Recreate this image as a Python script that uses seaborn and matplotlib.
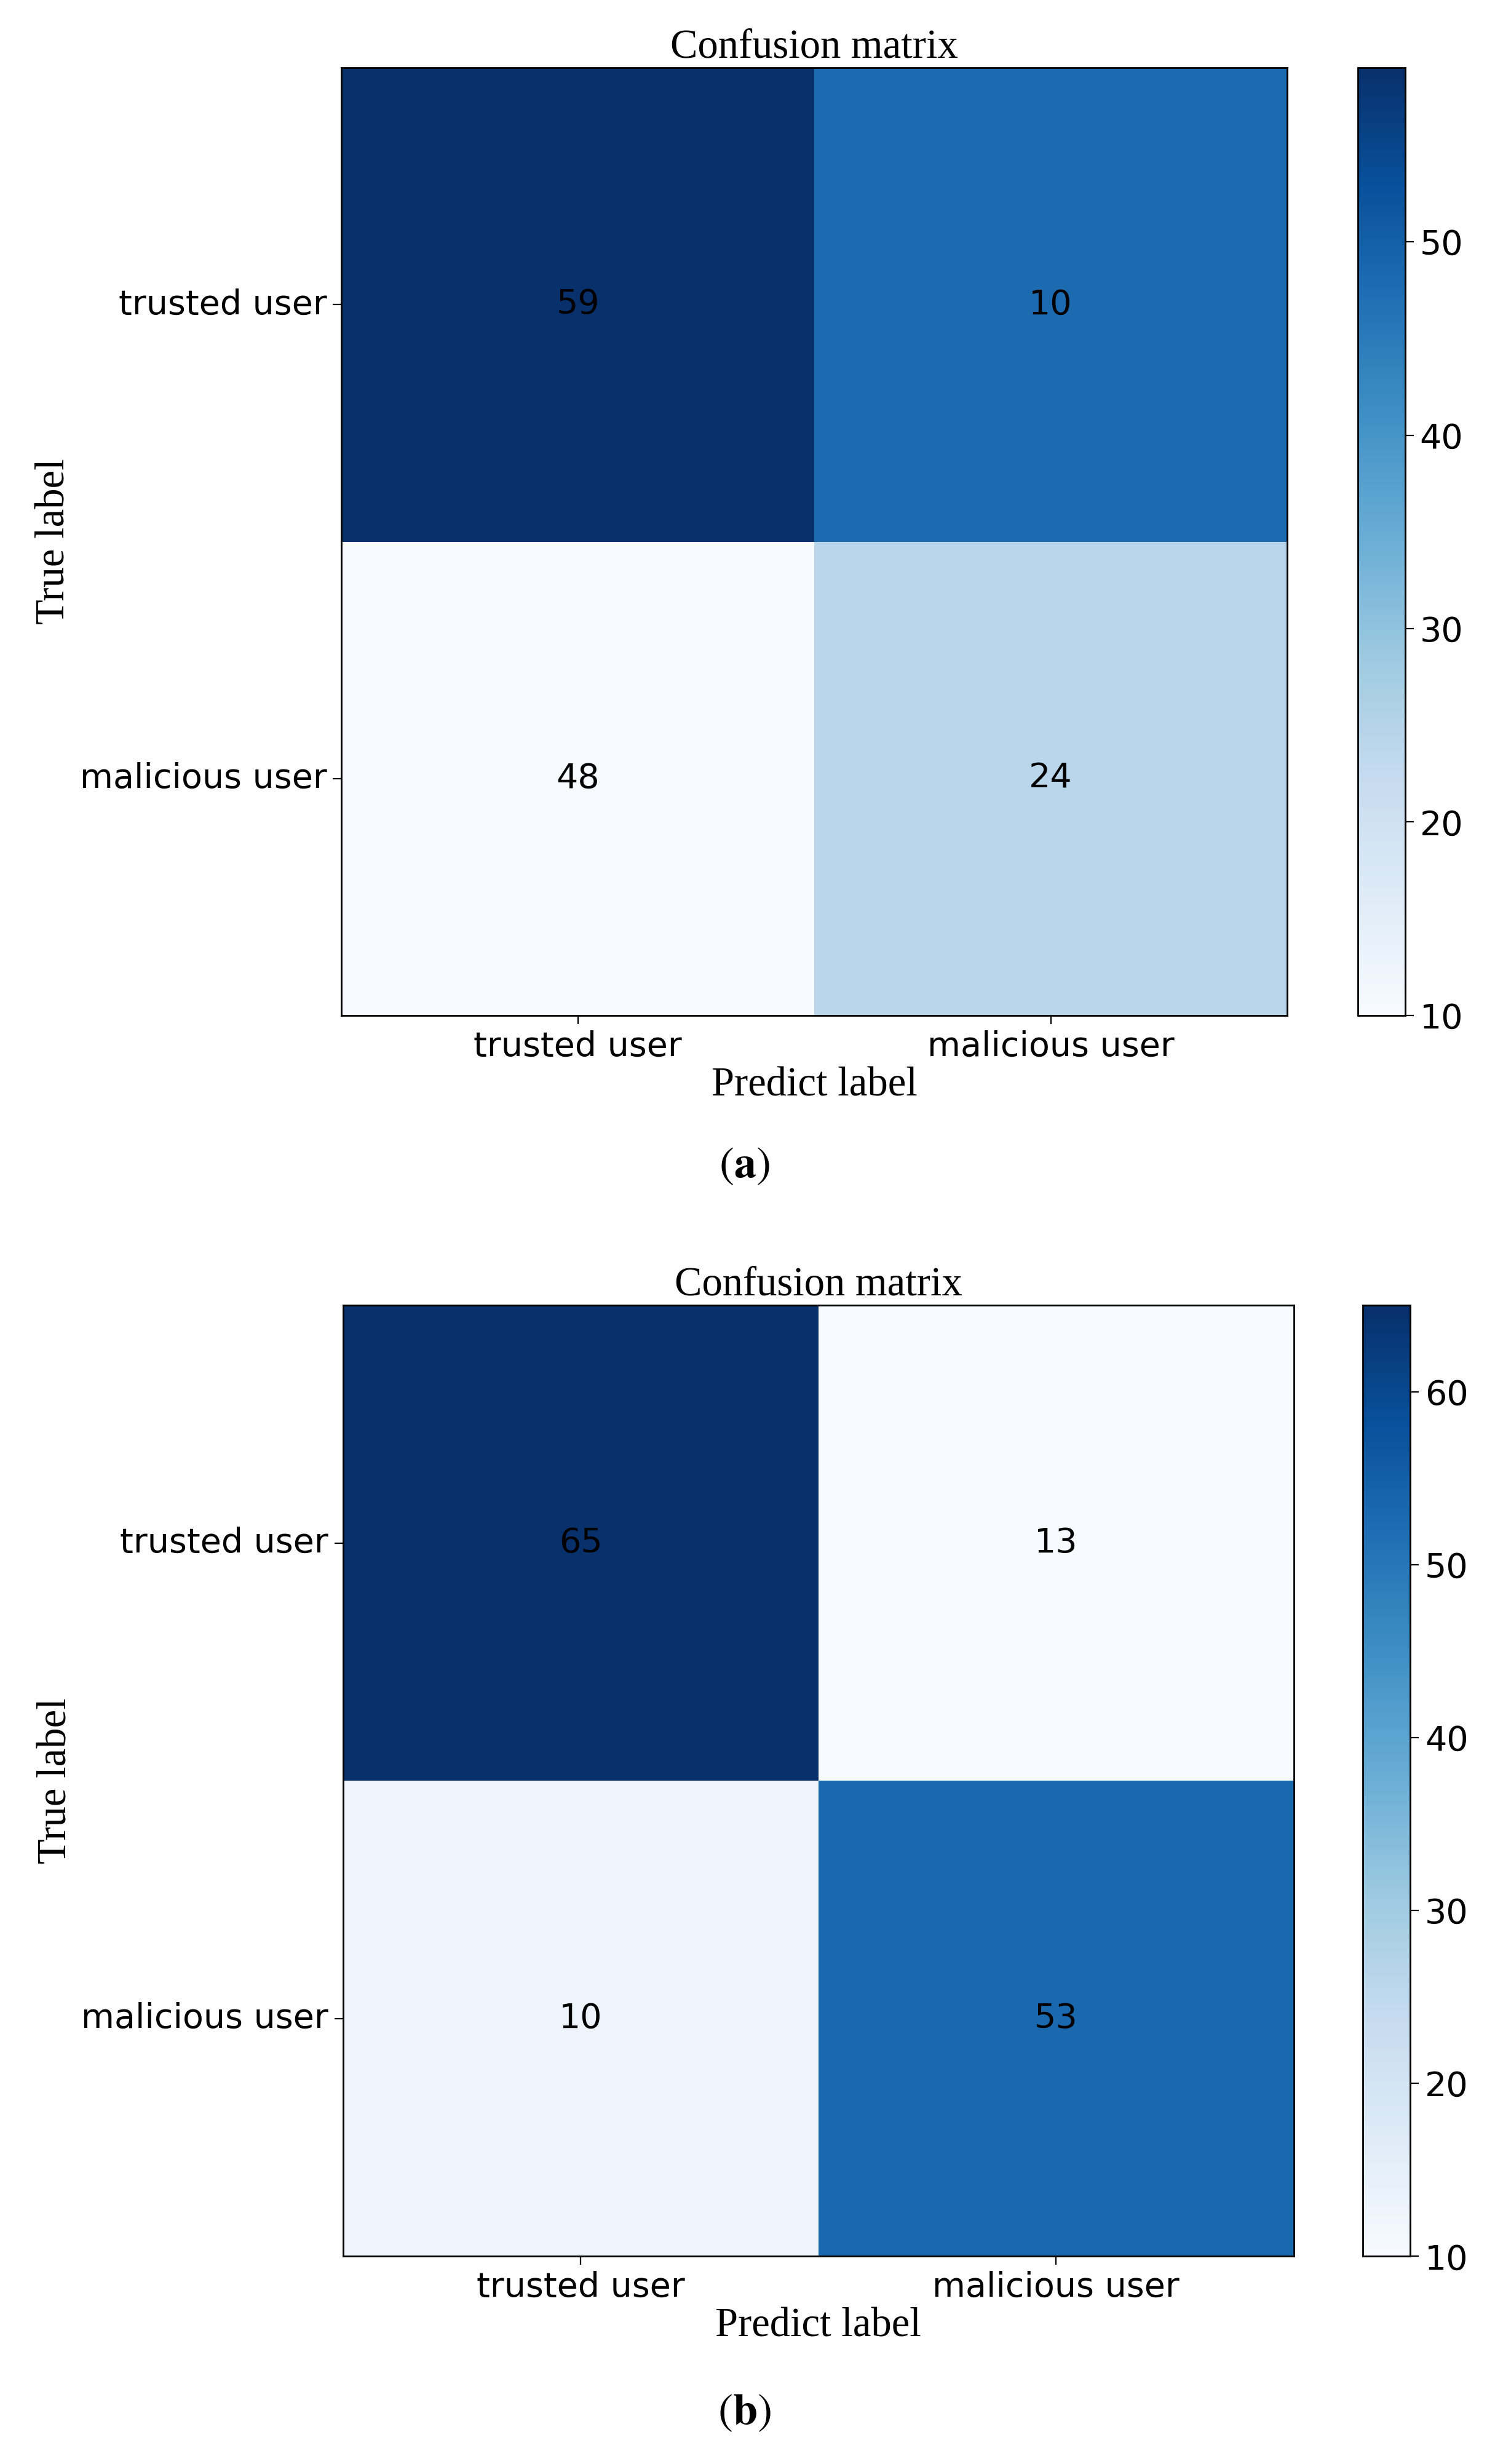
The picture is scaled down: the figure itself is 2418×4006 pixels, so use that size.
import numpy as np
import seaborn as sns
import matplotlib.pyplot as plt

labels = ['trusted user', 'malicious user']
# annotated counts for each panel (rows = true, cols = predicted)
cm_a = np.array([[59, 10], [48, 24]])
cm_b = np.array([[65, 13], [10, 53]])
vmin_a, vmax_a = 10, 59
vmin_b, vmax_b = 10, 65

plt.rcParams['mathtext.fontset'] = 'stix'

fig = plt.figure(figsize=(12.09, 20.03), dpi=200)


def draw_panel(cm, vmin, vmax, ax_rect, cb_rect, tag, tag_y):
    ax = fig.add_axes(ax_rect)
    cax = fig.add_axes(cb_rect)
    # cells in the source are coloured by the transposed matrix, text by the original
    sns.heatmap(cm.T, annot=cm, fmt='d', cmap='Blues', vmin=vmin, vmax=vmax,
                ax=ax, cbar_ax=cax, xticklabels=labels, yticklabels=labels,
                annot_kws={'fontsize': 20, 'color': 'black'})
    for s in ax.spines.values():
        s.set_visible(True)
        s.set_color('black')
        s.set_linewidth(1.0)
    ax.tick_params(axis='both', labelsize=20, length=5)
    plt.setp(ax.get_yticklabels(), rotation=0)
    plt.setp(ax.get_xticklabels(), rotation=0)
    ax.set_title('Confusion matrix', fontsize=24, family='Liberation Serif')
    ax.set_xlabel('Predict label', fontsize=24, family='Liberation Serif', labelpad=2)
    ax.set_ylabel('True label', fontsize=24, family='Liberation Serif', labelpad=4)
    cb = ax.collections[0].colorbar
    cb.outline.set_visible(True)
    cb.outline.set_edgecolor('black')
    cb.outline.set_linewidth(1.0)
    cax.tick_params(labelsize=20, length=5)
    fig.text(0.5005, tag_y, r'$(\mathbf{' + tag + r'})$', fontsize=26,
             ha='center', va='center')
    return ax


draw_panel(cm_a, vmin_a, vmax_a, [0.2296, 0.5879, 0.636, 0.3846],
           [0.913, 0.5879, 0.032, 0.3846], 'a', 0.527)
draw_panel(cm_b, vmin_b, vmax_b, [0.2307, 0.0843, 0.6393, 0.386],
           [0.9164, 0.0843, 0.032, 0.386], 'b', 0.021)

fig.savefig('out.png', dpi=200)
